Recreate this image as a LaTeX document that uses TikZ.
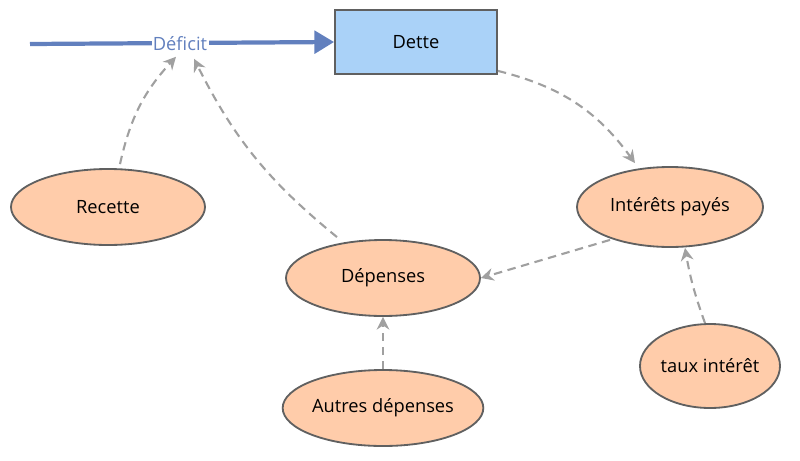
\documentclass[tikz,border=0pt]{standalone}
\usepackage{fontspec}
\setmainfont{Open Sans}
\usepackage{xcolor}
\definecolor{flowblue}{RGB}{98, 128, 190}
\definecolor{stockblue}{RGB}{170, 210, 248}
\definecolor{peach}{RGB}{255, 204, 170}
\definecolor{edgegray}{RGB}{96, 96, 96}
\definecolor{linkgray}{RGB}{160, 160, 160}
\usetikzlibrary{shapes,arrows.meta,positioning,calc}

\begin{document}
\begin{tikzpicture}[
    x=0.025cm, y=-0.025cm,
    font=\fontsize{13}{15}\selectfont,
    var/.style={
        ellipse,
        draw=edgegray,
        line width=1.3pt,
        fill=peach,
        inner sep=0pt
    },
    link/.style={
        draw=linkgray,
        line width=1.5pt,
        dash pattern=on 6pt off 4pt,
        -{Stealth[length=9pt,width=9pt]}
    }
]
    \useasboundingbox (0,0) rectangle (800,460);

    % Stock and flow
    \node[draw=edgegray, line width=1.3pt, fill=stockblue, minimum width=162*0.025cm,
        minimum height=64*0.025cm] (dette) at (416,42) {Dette};
    \coordinate (source) at (30,44);
    \draw[flowblue, line width=3pt, -{Triangle[length=14pt,width=16pt]}] (source) -- (dette.west);
    \node[fill=white, text=flowblue, inner sep=1pt] (deficit) at (180,44) {Déficit};

    % Auxiliaries
    \node[var, minimum width=194*0.025cm, minimum height=76*0.025cm] (recette) at (108,207) {Recette};
    \node[var, minimum width=194*0.025cm, minimum height=76*0.025cm] (depenses) at (383,278) {Dépenses};
    \node[var, minimum width=186*0.025cm, minimum height=80*0.025cm] (interets) at (670,207) {Intérêts payés};
    \node[var, minimum width=194*0.025cm, minimum height=76*0.025cm] (autres) at (383,408) {Autres dépenses};
    \node[var, minimum width=140*0.025cm, minimum height=84*0.025cm] (taux) at (710,366) {taux intérêt};

    % Links
    \draw[link] ($(recette.north)+(12,-4)$) to[bend left=15] ($(deficit.south)+(-4,4)$);
    \draw[link] ($(depenses.north)+(-46,-2)$) to[bend left=12] ($(deficit.south)+(14,6)$);
    \draw[link] ($(dette.south east)+(0,-4)$) to[bend left=20] ($(interets.north)+(-35,-3)$);
    \draw[link] ($(interets.south)+(-60,-8)$) -- (depenses.east);
    \draw[link] (autres.north) -- (depenses.south);
    \draw[link] ($(taux.north)+(-5,0)$) to[bend left=5] ($(interets.south)+(15,0)$);
\end{tikzpicture}
\end{document}
